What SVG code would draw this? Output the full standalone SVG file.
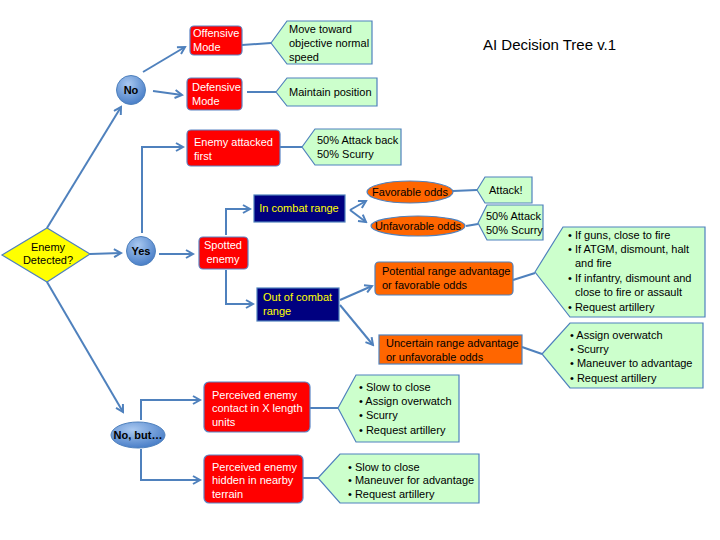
<svg xmlns="http://www.w3.org/2000/svg" width="720" height="540" viewBox="0 0 720 540">
<defs>
<radialGradient id="bl" cx="0.4" cy="0.3" r="0.7"><stop offset="0" stop-color="#a9c8f0"/><stop offset="1" stop-color="#4a7fc8"/></radialGradient>
<marker id="ar" markerWidth="10" markerHeight="10" refX="8" refY="5" orient="auto" markerUnits="userSpaceOnUse"><path d="M1,1 L8,5 L1,9" fill="none" stroke="#4f81bd" stroke-width="2"/></marker>
<style>
text{font-family:"Liberation Sans",Arial,sans-serif;font-size:11px}
.r{fill:#ff0000;stroke:#5b84c4;stroke-width:1.2}
.g{fill:#ccffcc;stroke:#4f81bd;stroke-width:1.2}
.o{fill:#ff6600;stroke:#4f81bd;stroke-width:1.2}
.n{fill:#000080;stroke:#4f81bd;stroke-width:1.2}
.c{fill:url(#bl);stroke:#4f81bd;stroke-width:1}
.w{fill:#ffffff}
.k{fill:#000000}
.y{fill:#ffff00}
.b{font-weight:bold;fill:#000}
#conn path,#conn line{fill:none;stroke:#4f81bd;stroke-width:2}
</style>
</defs>
<rect width="720" height="540" fill="#fff"/>
<text x="483" y="50" style="font-size:15px">AI Decision Tree v.1</text>
<g id="conn">
<line x1="47" y1="228" x2="121" y2="107" marker-end="url(#ar)"/>
<line x1="143" y1="72" x2="185" y2="47" marker-end="url(#ar)"/>
<line x1="153" y1="91" x2="182" y2="95" marker-end="url(#ar)"/>
<line x1="242" y1="45" x2="271" y2="43"/>
<line x1="247" y1="92" x2="276" y2="92"/>
<line x1="90" y1="254" x2="121" y2="253" marker-end="url(#ar)"/>
<path d="M142,233 V147 H183" marker-end="url(#ar)"/>
<line x1="159" y1="254" x2="193" y2="254" marker-end="url(#ar)"/>
<line x1="280" y1="147" x2="302" y2="147"/>
<path d="M226,235 V209 H250" marker-end="url(#ar)"/>
<path d="M226,270 V304 H253" marker-end="url(#ar)"/>
<line x1="350" y1="210" x2="366" y2="201" marker-end="url(#ar)"/>
<line x1="350" y1="210" x2="366" y2="222" marker-end="url(#ar)"/>
<line x1="453" y1="191" x2="477" y2="190"/>
<line x1="466" y1="226" x2="478" y2="224"/>
<line x1="340" y1="300" x2="372" y2="286" marker-end="url(#ar)"/>
<line x1="340" y1="305" x2="373" y2="345" marker-end="url(#ar)"/>
<line x1="513" y1="280" x2="535" y2="273"/>
<line x1="522" y1="347" x2="542" y2="354"/>
<line x1="47" y1="282" x2="123" y2="412" marker-end="url(#ar)"/>
<path d="M141,420 V400 H200" marker-end="url(#ar)"/>
<path d="M141,449 V480 H200" marker-end="url(#ar)"/>
<line x1="310" y1="408" x2="338" y2="408"/>
<line x1="303" y1="478" x2="318" y2="478"/>
</g>
<g id="detected"><polygon points="2,255 47,228 90,254 47,282" fill="#ffff00" stroke="#4f81bd" stroke-width="1.2"/><text x="48" y="251" text-anchor="middle">Enemy</text><text x="48" y="264" text-anchor="middle">Detected?</text></g>
<g id="no"><circle cx="131" cy="90" r="14.5" class="c"/><text x="131" y="94" text-anchor="middle" class="b">No</text></g>
<g id="yes"><circle cx="141" cy="251" r="14.5" class="c"/><text x="141" y="255" text-anchor="middle" class="b">Yes</text></g>
<g id="nobut"><ellipse cx="138" cy="435" rx="27" ry="13" class="c"/><text x="138" y="439" text-anchor="middle" class="b">No, but…</text></g>
<g id="offensive"><rect x="190" y="26" width="52" height="29" rx="4" class="r"/><text x="193" y="37" class="w">Offensive</text><text x="193" y="51" class="w">Mode</text></g>
<g id="defensive"><rect x="187" y="78" width="55" height="32" rx="4" class="r"/><text x="192" y="91" class="w">Defensive</text><text x="192" y="105" class="w">Mode</text></g>
<g id="move"><polygon points="271,43 287,21 372,21 372,64 287,64" class="g"/><text x="289" y="33">Move toward</text><text x="289" y="47">objective normal</text><text x="289" y="61">speed</text></g>
<g id="maintain"><polygon points="276,92 287,78 377,78 377,106 287,106" class="g"/><text x="289" y="96">Maintain position</text></g>
<g id="attacked"><rect x="187" y="130" width="93" height="36" rx="4" class="r"/><text x="194" y="146" class="w">Enemy attacked</text><text x="194" y="160" class="w">first</text></g>
<g id="attackback"><polygon points="302,147 315,129 401,129 401,165 315,165" class="g"/><text x="317" y="144">50% Attack back</text><text x="317" y="158">50% Scurry</text></g>
<g id="spotted"><rect x="199" y="237" width="49" height="32" rx="4" class="r"/><text x="223" y="249" text-anchor="middle" class="w">Spotted</text><text x="223" y="263" text-anchor="middle" class="w">enemy</text></g>
<g id="incombat"><rect x="254" y="195" width="91" height="27" class="n"/><text x="299" y="212" text-anchor="middle" class="y">In combat range</text></g>
<g id="outcombat"><rect x="257" y="288" width="82" height="33" class="n"/><text x="263" y="301" class="y">Out of combat</text><text x="263" y="315" class="y">range</text></g>
<g id="favorable"><ellipse cx="410" cy="192" rx="43" ry="11" class="o"/><text x="410" y="196" text-anchor="middle">Favorable odds</text></g>
<g id="unfavorable"><ellipse cx="418" cy="226" rx="47" ry="10" class="o"/><text x="418" y="230" text-anchor="middle">Unfavorable odds</text></g>
<g id="attack"><polygon points="477,190 485,177 532,177 532,203 485,203" class="g"/><text x="489" y="194">Attack!</text></g>
<g id="attackscurry"><polygon points="478,223 487,205 543,205 543,240 487,240" class="g"/><text x="486" y="220">50% Attack</text><text x="486" y="234">50% Scurry</text></g>
<g id="potential"><rect x="375" y="262" width="138" height="33" rx="4" class="o"/><text x="382" y="275">Potential range advantage</text><text x="382" y="289">or favorable odds</text></g>
<g id="potentialact"><polygon points="535,272 563,227 705,227 705,317 570,317" class="g"/><text x="568" y="239">• If guns, close to fire</text><text x="568" y="253">• If ATGM, dismount, halt</text><text x="575" y="267">and fire</text><text x="568" y="282">• If infantry, dismount and</text><text x="575" y="296">close to fire or assault</text><text x="568" y="311">• Request artillery</text></g>
<g id="uncertain"><rect x="379" y="335" width="143" height="29" class="o"/><text x="386" y="347">Uncertain range advantage</text><text x="386" y="361">or unfavorable odds</text></g>
<g id="uncertainact"><polygon points="542,354 570,323 703,323 703,388 570,388" class="g"/><text x="570" y="339">• Assign overwatch</text><text x="570" y="353">• Scurry</text><text x="570" y="367">• Maneuver to advantage</text><text x="570" y="382">• Request artillery</text></g>
<g id="contact"><rect x="204" y="382" width="106" height="50" rx="5" class="r"/><text x="212" y="399" class="w">Perceived enemy</text><text x="212" y="412" class="w">contact in X length</text><text x="212" y="426" class="w">units</text></g>
<g id="contactact"><polygon points="338,408 356,375 459,375 459,442 356,442" class="g"/><text x="359" y="391">• Slow to close</text><text x="359" y="405">• Assign overwatch</text><text x="359" y="419">• Scurry</text><text x="359" y="434">• Request artillery</text></g>
<g id="hidden"><rect x="204" y="455" width="99" height="48" rx="5" class="r"/><text x="212" y="471" class="w">Perceived enemy</text><text x="212" y="484" class="w">hidden in nearby</text><text x="212" y="498" class="w">terrain</text></g>
<g id="hiddenact"><polygon points="318,478 340,454 479,454 479,503 340,503" class="g"/><text x="348" y="471">• Slow to close</text><text x="348" y="484">• Maneuver for advantage</text><text x="348" y="498">• Request artillery</text></g>
</svg>
